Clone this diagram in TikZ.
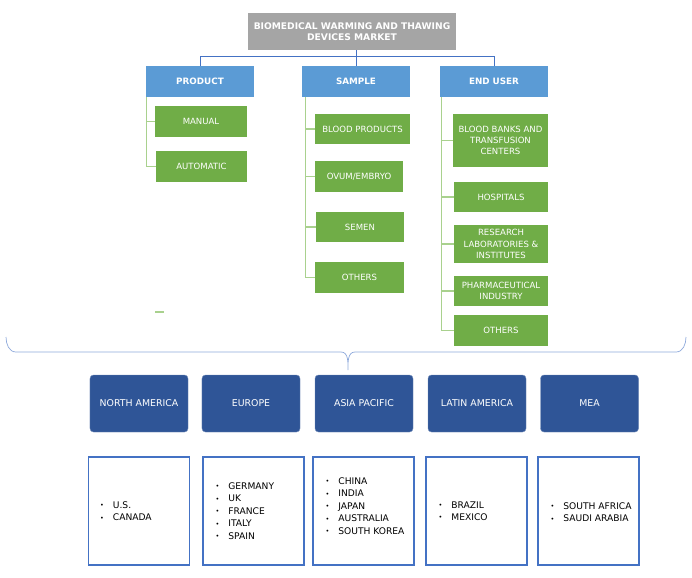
\documentclass[tikz,border=0pt]{standalone}
\usepackage{fontspec}
\setmainfont{DejaVu Sans}
\usetikzlibrary{positioning, calc}

\definecolor{TitleGray}{HTML}{A5A5A5}
\definecolor{HeadBlue}{HTML}{5B9BD5}
\definecolor{LeafGreen}{HTML}{70AD47}
\definecolor{BusGreen}{HTML}{A9D18E}
\definecolor{RegionBlue}{HTML}{2F5597}
\definecolor{BoxBlue}{HTML}{4472C4}
\definecolor{BraceBlue}{HTML}{8EA9DB}

\newcommand{\itm}{\makebox[1.4em][l]{\raisebox{0.1ex}{\scalebox{0.7}{\textbullet}}}}

\begin{document}
\begin{tikzpicture}[
    x=0.03cm, y=-0.03cm,
    title/.style={rectangle, fill=TitleGray, text=white, inner sep=0pt, minimum width=6.24cm, minimum height=1.11cm, align=center, font=\fontsize{7.8}{9.6}\selectfont\bfseries},
    heading/.style={rectangle, fill=HeadBlue, text=white, inner sep=0pt, minimum width=3.24cm, minimum height=0.93cm, font=\fontsize{7.5}{9}\selectfont\bfseries},
    leaf/.style={rectangle, fill=LeafGreen, text=white, inner sep=0pt, minimum width=2.64cm, minimum height=0.9cm, align=center, font=\fontsize{7.3}{9.6}\selectfont},
    region/.style={rectangle, rounded corners=3pt, fill=RegionBlue, draw=RegionBlue!70!white, text=white, inner sep=0pt, minimum width=2.94cm, minimum height=1.71cm, font=\fontsize{8}{9.6}\selectfont},
    countries/.style={rectangle, draw=BoxBlue, line width=1.1pt, inner sep=0pt, minimum width=3.03cm, minimum height=3.24cm},
    list/.style={anchor=west, align=left, inner sep=0pt, font=\fontsize{7.8}{10.6}\selectfont},
    bus/.style={draw=BusGreen, line width=1.1pt},
    link/.style={draw=BoxBlue, line width=0.6pt},
]
\useasboundingbox (0,0) rectangle (692,577);

% ---- Title ----
\node[title] (title) at (352, 31.5) {BIOMEDICAL WARMING AND THAWING\\DEVICES MARKET};

% ---- Segment headings ----
\node[heading] (product) at (200, 81.5) {PRODUCT};
\node[heading] (sample) at (356, 81.5) {SAMPLE};
\node[heading] (enduser) at (494, 81.5) {END USER};

% ---- Product ----
\node[leaf, minimum width=2.76cm, minimum height=0.93cm] (manual) at (201, 121.5) {MANUAL};
\node[leaf, minimum width=2.73cm, minimum height=0.93cm] (automatic) at (201.5, 166.5) {AUTOMATIC};

% ---- Sample ----
\node[leaf, minimum width=2.85cm] (blood) at (362.5, 129) {BLOOD PRODUCTS};
\node[leaf, minimum height=0.93cm] (ovum) at (359, 176.5) {OVUM/EMBRYO};
\node[leaf] (semen) at (360, 227) {SEMEN};
\node[leaf, minimum width=2.67cm, minimum height=0.93cm] (sothers) at (359.5, 277.5) {OTHERS};

% ---- End user ----
\node[leaf, minimum width=2.85cm, minimum height=1.59cm] (banks) at (500.5, 140.5) {BLOOD BANKS AND\\TRANSFUSION\\CENTERS};
\node[leaf, minimum width=2.82cm] (hospitals) at (501, 197) {HOSPITALS};
\node[leaf, minimum width=2.82cm, minimum height=1.14cm] (research) at (501, 244) {RESEARCH\\LABORATORIES \&\\INSTITUTES};
\node[leaf, minimum width=2.82cm] (pharma) at (501, 291) {PHARMACEUTICAL\\INDUSTRY};
\node[leaf, minimum width=2.82cm, minimum height=0.93cm] (eothers) at (501, 330.5) {OTHERS};

% ---- Title links ----
\draw[link] (title.south -| sample.north) -- (sample.north);
\draw[link] (product.north) -- ++(0,-9) -| (enduser.north);

% ---- Branch lines ----
\draw[bus] ($(product.south west)+(1,0)$) |- (manual.west);
\draw[bus] ($(product.south west)+(1,0)$) |- (automatic.west);
\draw[bus] ($(sample.south west)+(4,0)$) |- (blood.west);
\draw[bus] ($(sample.south west)+(4,0)$) |- (ovum.west);
\draw[bus] ($(sample.south west)+(4,0)$) |- (semen.west);
\draw[bus] ($(sample.south west)+(4,0)$) |- (sothers.west);
\draw[bus] ($(enduser.south west)+(1.5,0)$) |- (banks.west);
\draw[bus] ($(enduser.south west)+(1.5,0)$) |- (hospitals.west);
\draw[bus] ($(enduser.south west)+(1.5,0)$) |- (research.west);
\draw[bus] ($(enduser.south west)+(1.5,0)$) |- (pharma.west);
\draw[bus] ($(enduser.south west)+(1.5,0)$) |- (eothers.west);
\draw[bus] (155, 312) -- (164, 312);

% ---- Brace ----
\draw[draw=BraceBlue, line width=0.6pt] (6, 337) to[out=-90, in=180] (16, 352)
  -- (341, 352) to[out=0, in=90] (348, 370) to[out=90, in=180] (355, 352)
  -- (676, 352) to[out=0, in=-90] (686, 337);

% ---- Regions ----
\node[region] (na) at (139, 403.5) {NORTH AMERICA};
\node[region] (eu) at (251, 403.5) {EUROPE};
\node[region] (ap) at (364, 403.5) {ASIA PACIFIC};
\node[region] (la) at (477, 403.5) {LATIN AMERICA};
\node[region] (mea) at (589.5, 403.5) {MEA};

% ---- Countries ----
\node[countries] (na-box) at (139, 511) {};
\node[countries] (eu-box) at (253.5, 511) {};
\node[countries] (ap-box) at (363.5, 511) {};
\node[countries] (la-box) at (476.5, 511) {};
\node[countries] (mea-box) at (588.5, 511) {};

\node[list] (na-list) at ($(na-box.west)+(12,0)$) {\itm U.S.\\\itm CANADA};
\node[list] (eu-list) at ($(eu-box.west)+(13,0)$) {\itm GERMANY\\\itm UK\\\itm FRANCE\\\itm ITALY\\\itm SPAIN};
\node[list] (ap-list) at ($(ap-box.west)+(13,-5)$) {\itm CHINA\\\itm INDIA\\\itm JAPAN\\\itm AUSTRALIA\\\itm SOUTH KOREA};
\node[list] (la-list) at ($(la-box.west)+(13,0)$) {\itm BRAZIL\\\itm MEXICO};
\node[list] (mea-list) at ($(mea-box.west)+(13,1)$) {\itm SOUTH AFRICA\\\itm SAUDI ARABIA};

\end{tikzpicture}
\end{document}
